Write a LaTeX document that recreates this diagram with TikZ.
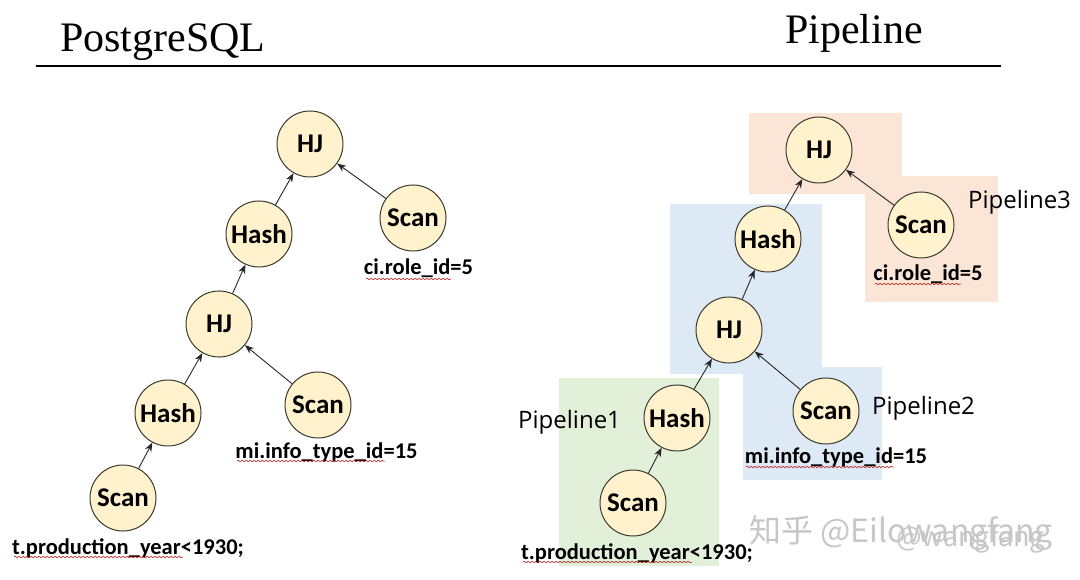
\documentclass[tikz,border=0pt]{standalone}
\usepackage{fontspec}
\setmainfont{Carlito}
\newfontfamily\titlefont{Liberation Serif}
\newfontfamily\plfont{Open Sans}
\newfontfamily\wmfont{Noto Sans CJK SC}
\usetikzlibrary{arrows.meta,decorations.pathmorphing}
\definecolor{peach}{HTML}{FBE5D6}
\definecolor{paleblue}{HTML}{DEE9F6}
\definecolor{palegreen}{HTML}{E2F0D9}
\definecolor{cream}{HTML}{FFF2CC}
\definecolor{ringc}{HTML}{3A3A2E}
\tikzset{
  x=1pt,y=-1pt,
  op/.style={circle,draw=ringc,line width=1pt,fill=cream,minimum size=66pt,inner sep=0pt,font=\fontsize{27}{27}\selectfont\bfseries},
  flow/.style={draw=black!85,line width=.9pt,-{Stealth[length=9pt,width=7pt]}},
  cond/.style={inner sep=0pt,anchor=base,font=\fontsize{22.5}{23}\selectfont\bfseries},
  wavy/.style={draw=red!70!black,line width=.5pt,decorate,decoration={snake,amplitude=.8pt,segment length=4pt}},
  pl/.style={inner sep=0pt,anchor=base west,font=\plfont\fontsize{24}{24}\selectfont,text=black},
  ttl/.style={inner sep=0pt,anchor=base west,font=\titlefont\fontsize{42}{42}\selectfont,text=black},
  zone/.style={draw=none},
  wm/.style={inner sep=0pt,anchor=base west,font=\wmfont\fontsize{32}{32}\selectfont,text=black!22},
}
\begin{document}
\begin{tikzpicture}
\useasboundingbox (0,0) rectangle (1080,580);
\fill[white] (0,0) rectangle (1080,580);
% zones
\fill[peach,zone] (749,113) rectangle (902,194);
\fill[peach,zone] (865,176) rectangle (998,302);
\fill[paleblue,zone] (670,204) rectangle (822,374);
\fill[paleblue,zone] (743,367) rectangle (882,480);
\fill[palegreen,zone] (559,378) rectangle (719,566);
% titles
\node[ttl] (t1) at (60,52) {PostgreSQL};
\node[ttl] (t2) at (785,44) {Pipeline};
\coordinate (ruleA) at (36,66);
\coordinate (ruleB) at (1001,66);
\draw[black,line width=1.2pt] (ruleA) -- (ruleB);
% left tree
\node[op] (lhj1) at (310,144) {HJ};
\node[op] (lhash1) at (259,234) {Hash};
\node[op] (lscan1) at (413,218) {Scan};
\node[op] (lhj2) at (219,324) {HJ};
\node[op] (lhash2) at (168,413) {Hash};
\node[op] (lscan2) at (318,405) {Scan};
\node[op] (lscan3) at (123,498) {Scan};
\draw[flow] (lhash1) -- (lhj1);
\draw[flow] (lscan1) -- (lhj1);
\draw[flow] (lhj2) -- (lhash1);
\draw[flow] (lhash2) -- (lhj2);
\draw[flow] (lscan2) -- (lhj2);
\draw[flow] (lscan3) -- (lhash2);
% right tree
\node[op] (rhj1) at (819,150) {HJ};
\node[op] (rhash1) at (768,239) {Hash};
\node[op] (rscan1) at (921,225) {Scan};
\node[op] (rhj2) at (729,330) {HJ};
\node[op] (rhash2) at (677,418) {Hash};
\node[op] (rscan2) at (826,411) {Scan};
\node[op] (rscan3) at (633,503) {Scan};
\draw[flow] (rhash1) -- (rhj1);
\draw[flow] (rscan1) -- (rhj1);
\draw[flow] (rhj2) -- (rhash1);
\draw[flow] (rhash2) -- (rhj2);
\draw[flow] (rscan2) -- (rhj2);
\draw[flow] (rscan3) -- (rhash2);
% conditions
\node[cond] (c1) at (418.5,275) {ci.role\_id=5};
\node[cond] (c2) at (326.5,458) {mi.info\_type\_id=15};
\node[cond] (c3) at (128,554) {t.production\_year<1930;};
\node[cond] (c4) at (928,281) {ci.role\_id=5};
\node[cond] (c5) at (836,463) {mi.info\_type\_id=15};
\node[cond] (c6) at (637,559) {t.production\_year<1930;};
% spell-check underlines
\draw[wavy] (366,279) -- (451,279);
\draw[wavy] (237,461) -- (385,461);
\draw[wavy] (14,557) -- (183,557);
\draw[wavy] (875,284) -- (961,284);
\draw[wavy] (746,467) -- (894,467);
\draw[wavy] (523,562) -- (692,562);
% pipeline labels
\node[pl] (p1) at (518,428) {Pipeline1};
\node[pl] (p2) at (872,414) {Pipeline2};
\node[pl] (p3) at (968,209) {Pipeline3};
% watermark
\node[wm] (w1) at (749,542) {知乎 @Eilowangfang};
\node[wm,font=\wmfont\fontsize{27}{27}\selectfont] (w2) at (896,546) {@wangfang};
\end{tikzpicture}
\end{document}
